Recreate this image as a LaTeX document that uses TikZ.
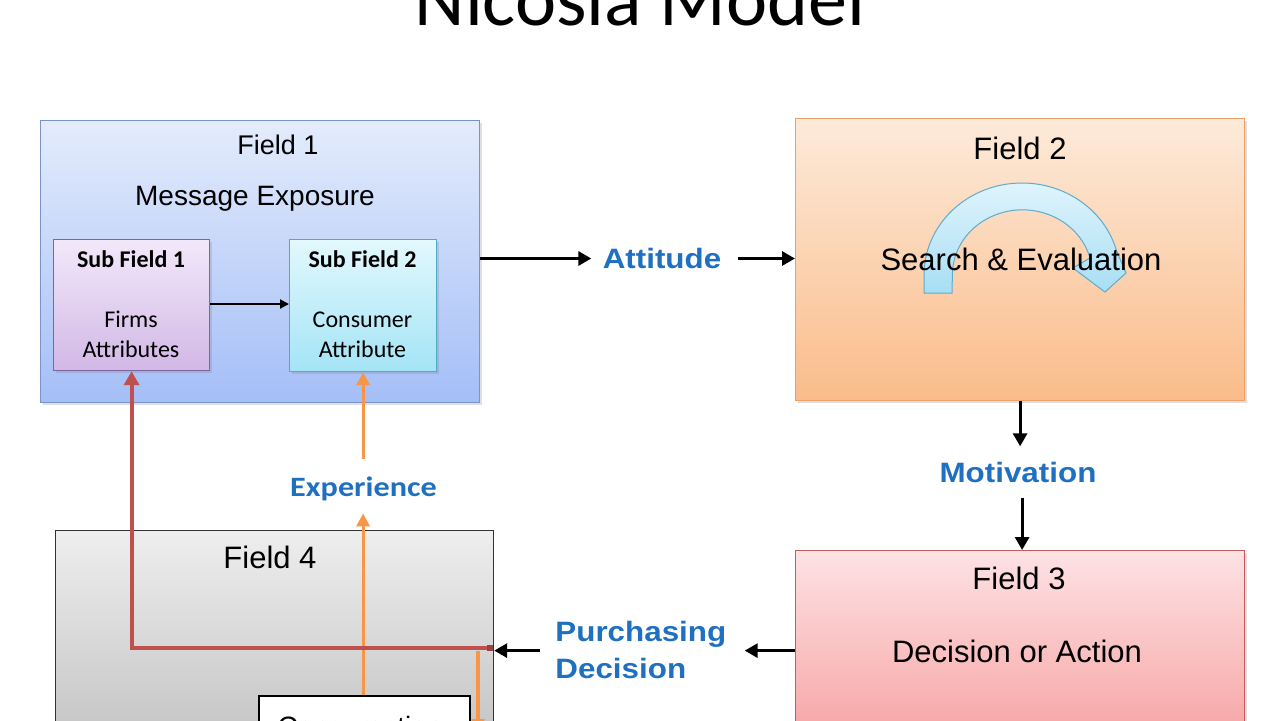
\documentclass[tikz,border=0pt]{standalone}
\usepackage{fontspec}
\setmainfont{Liberation Sans}
\newfontfamily\calfont{Carlito}
\usetikzlibrary{arrows.meta,shadows}
\definecolor{txtblue}{RGB}{31,112,192}
\definecolor{redln}{RGB}{192,80,77}
\definecolor{orln}{RGB}{247,150,70}
\definecolor{fatop}{RGB}{228,236,252}
\definecolor{fabot}{RGB}{164,190,247}
\definecolor{fabd}{RGB}{120,148,200}
\definecolor{satop}{RGB}{242,232,250}
\definecolor{sabot}{RGB}{210,184,230}
\definecolor{sabd}{RGB}{128,100,162}
\definecolor{sbtop}{RGB}{226,248,253}
\definecolor{sbbot}{RGB}{164,228,246}
\definecolor{sbbd}{RGB}{75,172,198}
\definecolor{fbtop}{RGB}{253,234,218}
\definecolor{fbbot}{RGB}{250,188,138}
\definecolor{fbbd}{RGB}{238,160,100}
\definecolor{fctop}{RGB}{253,226,228}
\definecolor{fcbot}{RGB}{247,160,160}
\definecolor{fcbd}{RGB}{196,90,90}
\definecolor{fdtop}{RGB}{238,238,238}
\definecolor{fdbot}{RGB}{194,194,194}
\definecolor{cvtop}{RGB}{222,244,253}
\definecolor{cvbot}{RGB}{168,222,244}
\definecolor{cvbd}{RGB}{96,170,204}
\begin{document}
\begin{tikzpicture}[x=0.5pt,y=-0.5pt,
  box/.style={draw, rectangle, anchor=north west, inner sep=0pt, line width=0.6pt},
  shad/.style={drop shadow={shadow xshift=1.2pt, shadow yshift=-1.2pt, opacity=0.25}},
  flbl/.style={inner sep=0pt, anchor=base, font=\fontsize{13.5}{16}\selectfont},
  fbig/.style={inner sep=0pt, anchor=base, font=\fontsize{15.5}{18}\selectfont},
  sublbl/.style={inner sep=0pt, anchor=base, font=\calfont\fontsize{12}{14}\selectfont},
  bluelbl/.style={inner sep=0pt, text=txtblue, font=\fontsize{14}{18.5}\selectfont\bfseries, xscale=1.12},
  blk/.style={line width=1.5pt, -{Triangle[length=6.5pt,width=7pt]}},
  blksmall/.style={line width=1pt, -{Triangle[length=4.5pt,width=4.5pt]}},
  orarr/.style={line width=1.6pt, draw=orln, -{Triangle[length=6.5pt,width=6.5pt]}},
  redarr/.style={line width=2pt, draw=redln, -{Triangle[length=7pt,width=7.5pt]}}
]
\useasboundingbox (0,0) rectangle (1280,720);
\clip (0,0) rectangle (1280,720);
\fill[white] (0,0) rectangle (1280,720);

% title
\node[inner sep=0pt, anchor=base, font=\calfont\fontsize{39}{44}\selectfont] (title) at (640,25) {Nicosia Model};

% Field 1
\node[box, shad, top color=fatop, bottom color=fabot, draw=fabd, minimum width=219.5pt, minimum height=141pt] (f1) at (40,120) {};
\node[flbl] (f1t) at (278,154) {Field 1};
\node[flbl, font=\fontsize{14}{16}\selectfont] (f1m) at (255,205) {Message Exposure};
\node[box, shad, top color=satop, bottom color=sabot, draw=sabd, minimum width=78pt, minimum height=65.5pt] (sf1) at (53,239) {};
\node[sublbl, font=\calfont\fontsize{12}{14}\selectfont\bfseries] (sf1t) at (131,267) {Sub Field 1};
\node[sublbl] (sf1a) at (131,327) {Firms};
\node[sublbl] (sf1b) at (131,357) {Attributes};
\node[box, shad, top color=sbtop, bottom color=sbbot, draw=sbbd, minimum width=73.5pt, minimum height=66pt] (sf2) at (289,239) {};
\node[sublbl, font=\calfont\fontsize{12}{14}\selectfont\bfseries] (sf2t) at (362.5,267) {Sub Field 2};
\node[sublbl] (sf2a) at (362.5,327) {Consumer};
\node[sublbl] (sf2b) at (362.5,357) {Attribute};
\draw[blksmall] (sf1.east |- 0,304) -- (sf2.west |- 0,304);

% Field 2
\node[box, shad, top color=fbtop, bottom color=fbbot, draw=fbbd, minimum width=224.5pt, minimum height=141pt] (f2) at (795,118) {};
\node[fbig] (f2t) at (1020,159) {Field 2};
\path[draw=cvbd, line width=0.5pt, top color=cvtop, bottom color=cvbot]
  (924,293) -- (924,275) arc[start angle=180, end angle=345, x radius=98, y radius=92]
  -- (1126,273) -- (1105,292) -- (1073,268) -- (1090,258)
  arc[start angle=345, end angle=180, x radius=70, y radius=65] -- (952,293) -- cycle;
\node[fbig] (f2m) at (1021,270) {Search \& Evaluation};

% Attitude
\node[bluelbl] (att) at (662,258.5) {Attitude};
\draw[blk, shorten >=5.5pt] (f1.east |- att) -- (att.west);
\draw[blk, shorten <=8pt] (att.east) -- (att.east -| f2.west);

% Motivation
\node[bluelbl] (mot) at (1018,472) {Motivation};
\draw[blk, shorten >=7.5pt] (f2.south) -- (f2.south |- mot.north);
\node[box, shad, top color=fctop, bottom color=fcbot, draw=fcbd, minimum width=224.5pt, minimum height=100pt] (f3) at (795,550) {};
\draw[blk, shorten <=7.5pt] ([xshift=1pt]mot.south -| f3.north) -- ([xshift=1pt]f3.north);
\node[fbig] (f3t) at (1019,589) {Field 3};
\node[fbig] (f3m) at (1017,662) {Decision or Action};

% Field 4
\node[box, top color=fdtop, bottom color=fdbot, draw=black!80, minimum width=219pt, minimum height=110pt] (f4) at (55,530) {};
\node[fbig] (f4t) at (270,568) {Field 4};
\node[box, fill=white, draw=black, line width=1.1pt, minimum width=105.5pt, minimum height=30pt] (cons) at (258,695) {};
\node[inner sep=0pt, anchor=base, font=\fontsize{14}{16}\selectfont] (const) at (360,736) {Consumption};

% Purchasing decision
\node[bluelbl, align=left, anchor=north west] (pd) at (555,621) {Purchasing\\Decision};
\draw[blk, shorten >=9pt] (f3.west) -- (f3.west -| pd.east);
\draw[blk, shorten <=7.5pt] (pd.west |- f3.west) -- (f4.east |- f3.west);

% Experience
\node[inner sep=0pt, text=txtblue, font=\calfont\fontsize{14}{16}\selectfont\bfseries, xscale=1.15] (exp) at (363.5,489) {Experience};
\draw[orarr, shorten >=6pt] (cons.north -| sf2.south) -- (sf2.south |- exp.south);
\draw[orarr, shorten <=9pt] (exp.north -| sf2.south) -- (sf2.south);

% red feedback
\coordinate (rc) at (493,648);
\draw[redarr] (rc) -| (sf1.south);
\fill[redln!80!black] (487,645) rectangle (493,651);

% orange down
\coordinate (od) at (478,651);
\coordinate (oend) at (478,732);
\draw[orarr] (od) -- (oend);
\end{tikzpicture}
\end{document}
